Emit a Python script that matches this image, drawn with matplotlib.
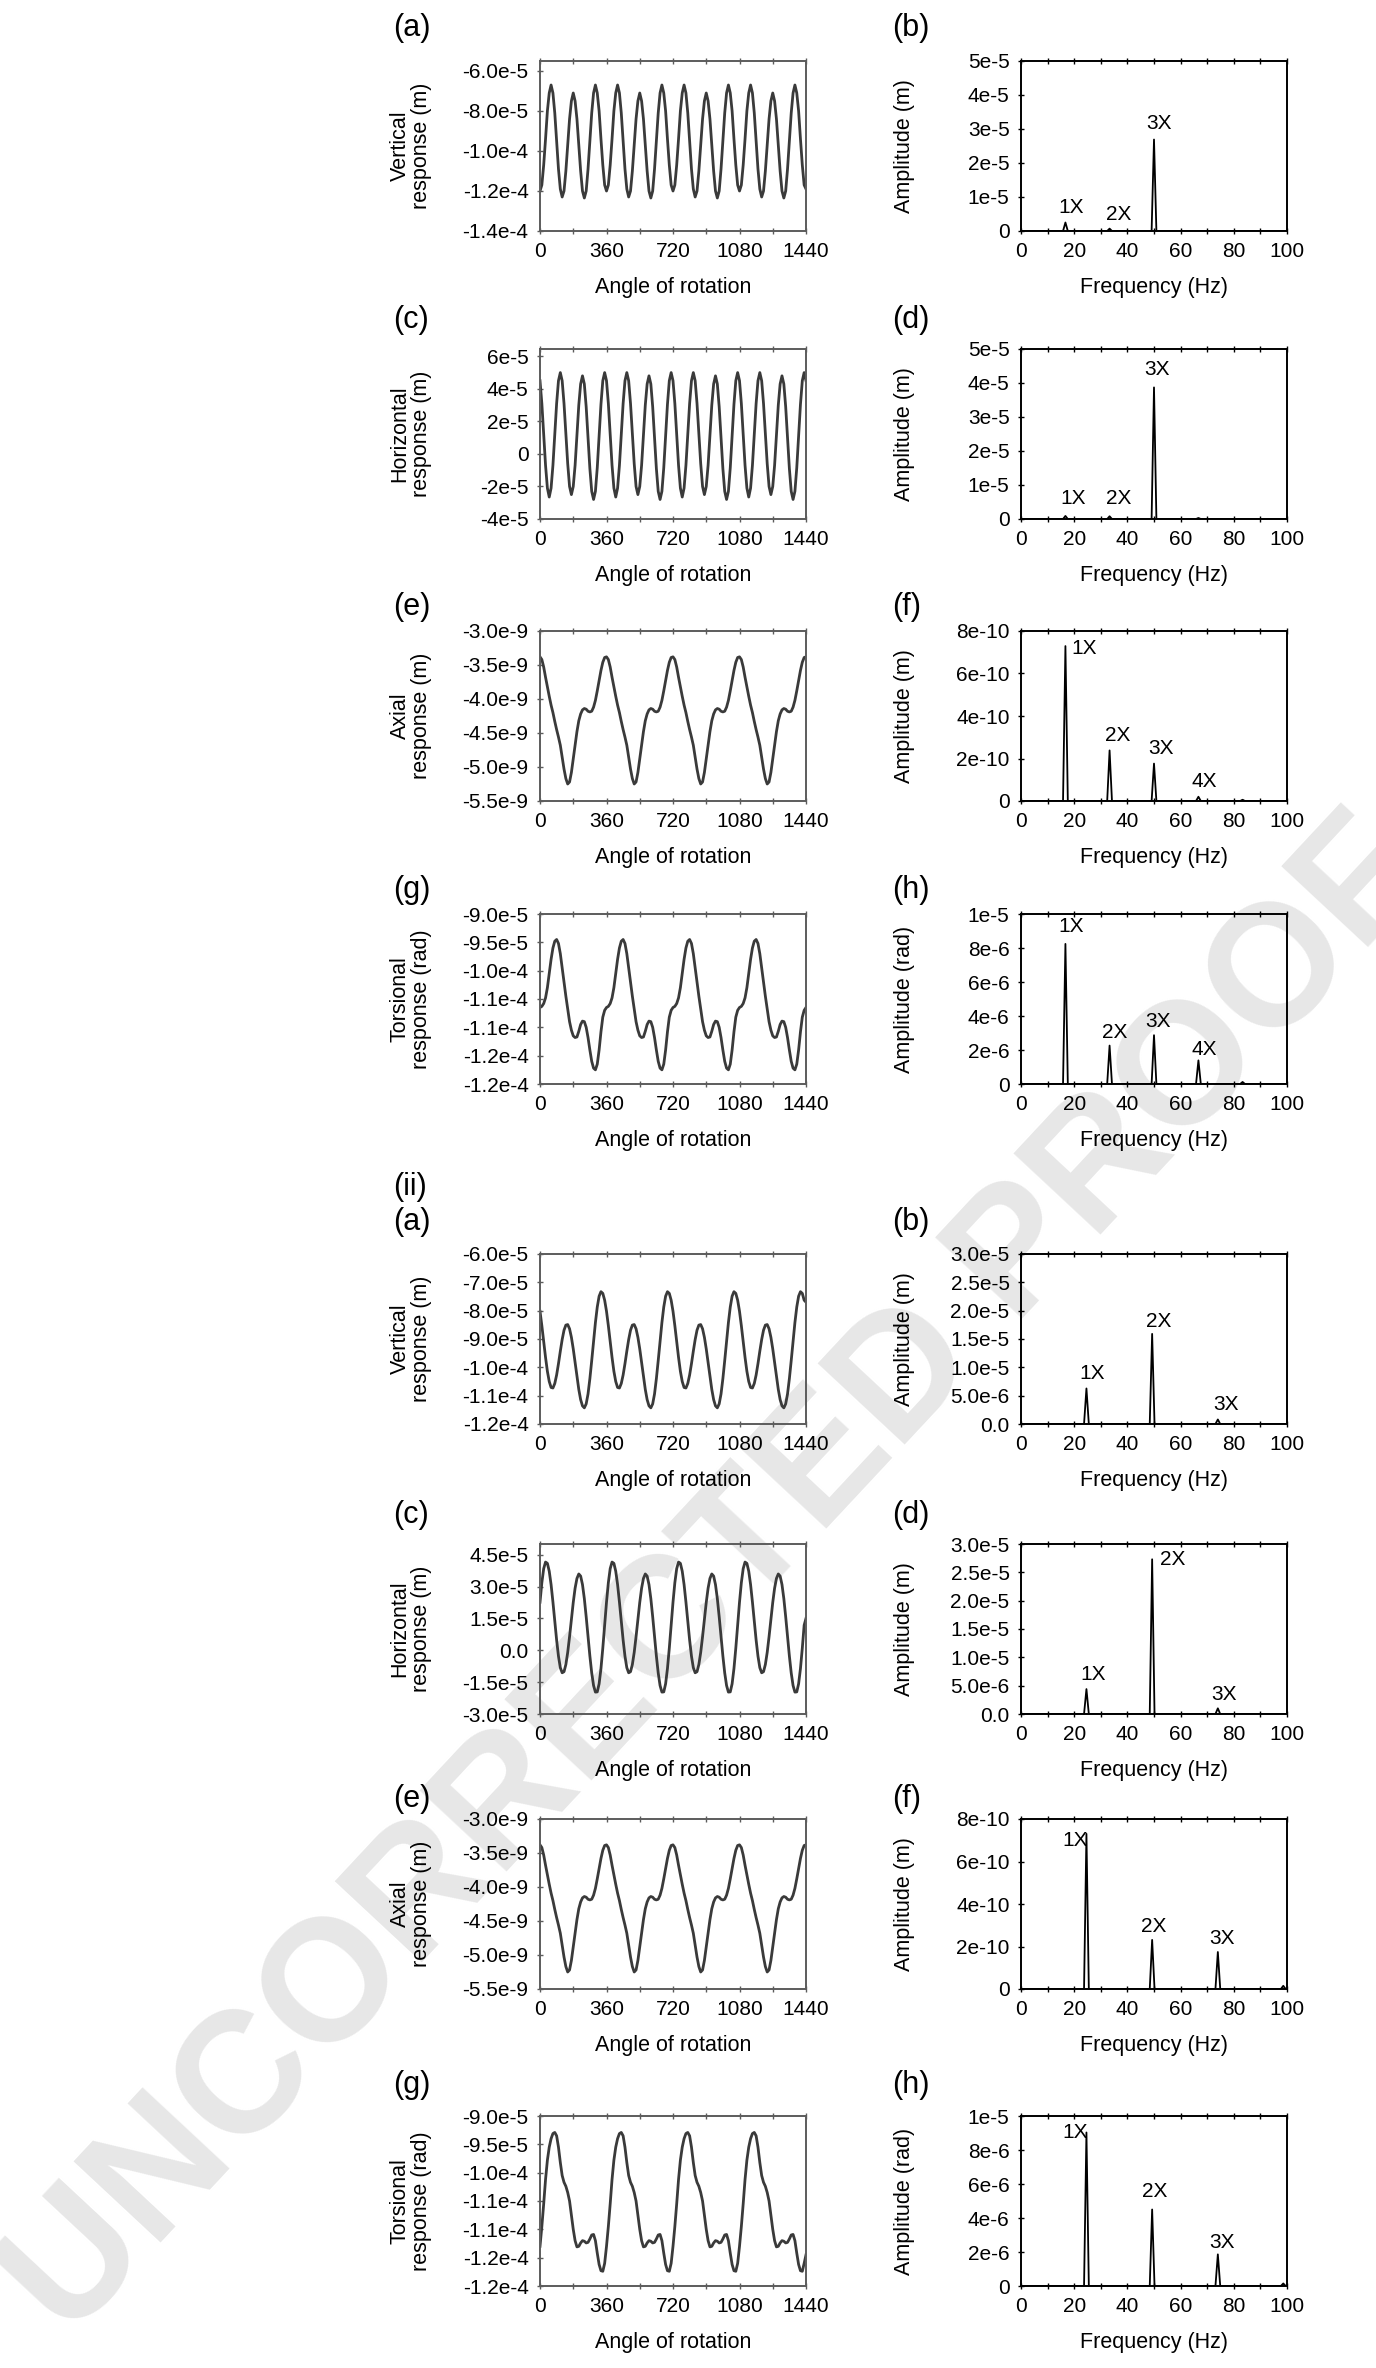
"""
Rotor response plots: time traces and spectra for two cases (i) and (ii).
"""

import numpy as np
import matplotlib.pyplot as plt
from matplotlib.ticker import FixedLocator, MultipleLocator

plt.rcParams['font.family'] = ['Liberation Sans', 'DejaVu Sans']

W, H, DPI = 1376, 2368, 100

# ---------------- data ----------------
# angle of rotation, one sample every 10 deg
angle = np.arange(0, 1441, 10)

# (i)(a) vertical response, x1e-5 m
vert_i = np.array([
    -12.0, -11.7, -10.7, -9.4, -8.0, -7.1, -6.7, -7.1, -8.1, -9.5, -10.9, -11.9,
    -12.3, -12.0, -11.0, -9.7, -8.4, -7.5, -7.1, -7.5, -8.4, -9.7, -11.0, -12.0,
    -12.35, -12.0, -10.9, -9.5, -8.1, -7.1, -6.7, -7.1, -8.0, -9.4, -10.7, -11.7,
    -12.0, -11.7, -10.7, -9.4, -8.0, -7.1, -6.7, -7.1, -8.1, -9.5, -10.9, -11.9,
    -12.3, -12.0, -11.0, -9.7, -8.4, -7.5, -7.1, -7.5, -8.4, -9.7, -11.0, -12.0,
    -12.35, -12.0, -10.9, -9.5, -8.1, -7.1, -6.7, -7.1, -8.0, -9.4, -10.7, -11.7,
    -12.0, -11.7, -10.7, -9.4, -8.0, -7.1, -6.7, -7.1, -8.1, -9.5, -10.9, -11.9,
    -12.3, -12.0, -11.0, -9.7, -8.4, -7.5, -7.1, -7.5, -8.4, -9.7, -11.0, -12.0,
    -12.35, -12.0, -10.9, -9.5, -8.1, -7.1, -6.7, -7.1, -8.0, -9.4, -10.7, -11.7,
    -12.0, -11.7, -10.7, -9.4, -8.0, -7.1, -6.7, -7.1, -8.1, -9.5, -10.9, -11.9,
    -12.3, -12.0, -11.0, -9.7, -8.4, -7.5, -7.1, -7.5, -8.4, -9.7, -11.0, -12.0,
    -12.35, -12.0, -10.9, -9.5, -8.1, -7.1, -6.7, -7.1, -8.0, -9.4, -10.7, -11.7,
    -11.9]) * 1e-5

# (i)(c) horizontal response, x1e-5 m
horiz_i = np.array([
    4.5, 3.1, 1.2, -0.7, -2.1, -2.65, -2.1, -0.7, 1.2, 3.1, 4.5, 5.0,
    4.5, 3.1, 1.25, -0.6, -2.0, -2.5, -2.0, -0.7, 1.15, 3.0, 4.3, 4.8,
    4.3, 2.9, 1.0, -0.9, -2.3, -2.8, -2.3, -0.85, 1.1, 3.05, 4.5, 5.0,
    4.5, 3.1, 1.2, -0.7, -2.1, -2.65, -2.1, -0.7, 1.2, 3.1, 4.5, 5.0,
    4.5, 3.1, 1.25, -0.6, -2.0, -2.5, -2.0, -0.7, 1.15, 3.0, 4.3, 4.8,
    4.3, 2.9, 1.0, -0.9, -2.3, -2.8, -2.3, -0.85, 1.1, 3.05, 4.5, 5.0,
    4.5, 3.1, 1.2, -0.7, -2.1, -2.65, -2.1, -0.7, 1.2, 3.1, 4.5, 5.0,
    4.5, 3.1, 1.25, -0.6, -2.0, -2.5, -2.0, -0.7, 1.15, 3.0, 4.3, 4.8,
    4.3, 2.9, 1.0, -0.9, -2.3, -2.8, -2.3, -0.85, 1.1, 3.05, 4.5, 5.0,
    4.5, 3.1, 1.2, -0.7, -2.1, -2.65, -2.1, -0.7, 1.2, 3.1, 4.5, 5.0,
    4.5, 3.1, 1.25, -0.6, -2.0, -2.5, -2.0, -0.7, 1.15, 3.0, 4.3, 4.8,
    4.3, 2.9, 1.0, -0.9, -2.3, -2.8, -2.3, -0.85, 1.1, 3.05, 4.5, 5.0,
    4.5]) * 1e-5

# (i)(e) and (ii)(e) axial response, x1e-9 m (the two traces look the same)
axial = np.array([
    -3.38, -3.42, -3.53, -3.68, -3.82, -3.96, -4.09, -4.2, -4.33, -4.45, -4.56, -4.68,
    -4.85, -5.03, -5.17, -5.25, -5.22, -5.08, -4.88, -4.68, -4.48, -4.32, -4.22, -4.16,
    -4.14, -4.15, -4.18, -4.19, -4.18, -4.12, -4.02, -3.88, -3.73, -3.58, -3.46, -3.39,
    -3.38, -3.42, -3.53, -3.68, -3.82, -3.96, -4.09, -4.2, -4.33, -4.45, -4.56, -4.68,
    -4.85, -5.03, -5.17, -5.25, -5.22, -5.08, -4.88, -4.68, -4.48, -4.32, -4.22, -4.16,
    -4.14, -4.15, -4.18, -4.19, -4.18, -4.12, -4.02, -3.88, -3.73, -3.58, -3.46, -3.39,
    -3.38, -3.42, -3.53, -3.68, -3.82, -3.96, -4.09, -4.2, -4.33, -4.45, -4.56, -4.68,
    -4.85, -5.03, -5.17, -5.25, -5.22, -5.08, -4.88, -4.68, -4.48, -4.32, -4.22, -4.16,
    -4.14, -4.15, -4.18, -4.19, -4.18, -4.12, -4.02, -3.88, -3.73, -3.58, -3.46, -3.39,
    -3.38, -3.42, -3.53, -3.68, -3.82, -3.96, -4.09, -4.2, -4.33, -4.45, -4.56, -4.68,
    -4.85, -5.03, -5.17, -5.25, -5.22, -5.08, -4.88, -4.68, -4.48, -4.32, -4.22, -4.16,
    -4.14, -4.15, -4.18, -4.19, -4.18, -4.12, -4.02, -3.88, -3.73, -3.58, -3.46, -3.39,
    -3.38]) * 1e-9

# (i)(g) torsional response, x1e-5 rad
tors_i = np.array([
    -10.65, -10.63, -10.58, -10.48, -10.3, -10.05, -9.8, -9.6, -9.48, -9.45, -9.52, -9.7,
    -9.95, -10.2, -10.45, -10.68, -10.9, -11.05, -11.15, -11.18, -11.17, -11.07, -10.95, -10.89,
    -10.9, -11.0, -11.18, -11.4, -11.6, -11.72, -11.75, -11.65, -11.4, -11.08, -10.82, -10.7,
    -10.65, -10.63, -10.58, -10.48, -10.3, -10.05, -9.8, -9.6, -9.48, -9.45, -9.52, -9.7,
    -9.95, -10.2, -10.45, -10.68, -10.9, -11.05, -11.15, -11.18, -11.17, -11.07, -10.95, -10.89,
    -10.9, -11.0, -11.18, -11.4, -11.6, -11.72, -11.75, -11.65, -11.4, -11.08, -10.82, -10.7,
    -10.65, -10.63, -10.58, -10.48, -10.3, -10.05, -9.8, -9.6, -9.48, -9.45, -9.52, -9.7,
    -9.95, -10.2, -10.45, -10.68, -10.9, -11.05, -11.15, -11.18, -11.17, -11.07, -10.95, -10.89,
    -10.9, -11.0, -11.18, -11.4, -11.6, -11.72, -11.75, -11.65, -11.4, -11.08, -10.82, -10.7,
    -10.65, -10.63, -10.58, -10.48, -10.3, -10.05, -9.8, -9.6, -9.48, -9.45, -9.52, -9.7,
    -9.95, -10.2, -10.45, -10.68, -10.9, -11.05, -11.15, -11.18, -11.17, -11.07, -10.95, -10.89,
    -10.9, -11.0, -11.18, -11.4, -11.6, -11.72, -11.75, -11.65, -11.4, -11.08, -10.82, -10.7,
    -10.65]) * 1e-5

# (ii)(a) vertical response, x1e-5 m
vert_ii = np.array([
    -8.02, -8.53, -9.09, -9.65, -10.14, -10.5, -10.71, -10.73, -10.57, -10.27, -9.87, -9.43,
    -9.02, -8.69, -8.51, -8.49, -8.64, -8.94, -9.35, -9.83, -10.33, -10.78, -11.14, -11.36,
    -11.43, -11.29, -10.94, -10.4, -9.76, -9.07, -8.42, -7.87, -7.49, -7.33, -7.39, -7.63,
    -8.02, -8.53, -9.09, -9.65, -10.14, -10.5, -10.71, -10.73, -10.57, -10.27, -9.87, -9.43,
    -9.02, -8.69, -8.51, -8.49, -8.64, -8.94, -9.35, -9.83, -10.33, -10.78, -11.14, -11.36,
    -11.43, -11.29, -10.94, -10.4, -9.76, -9.07, -8.42, -7.87, -7.49, -7.33, -7.39, -7.63,
    -8.02, -8.53, -9.09, -9.65, -10.14, -10.5, -10.71, -10.73, -10.57, -10.27, -9.87, -9.43,
    -9.02, -8.69, -8.51, -8.49, -8.64, -8.94, -9.35, -9.83, -10.33, -10.78, -11.14, -11.36,
    -11.43, -11.29, -10.94, -10.4, -9.76, -9.07, -8.42, -7.87, -7.49, -7.33, -7.39, -7.63,
    -8.02, -8.53, -9.09, -9.65, -10.14, -10.5, -10.71, -10.73, -10.57, -10.27, -9.87, -9.43,
    -9.02, -8.69, -8.51, -8.49, -8.64, -8.94, -9.35, -9.83, -10.33, -10.78, -11.14, -11.36,
    -11.43, -11.29, -10.94, -10.4, -9.76, -9.07, -8.42, -7.87, -7.49, -7.33, -7.39, -7.63,
    -7.7]) * 1e-5

# (ii)(c) horizontal response, x1e-5 m
horiz_ii = np.array([
    2.26, 3.18, 3.84, 4.15, 4.09, 3.72, 3.09, 2.27, 1.36, 0.48, -0.28, -0.82,
    -1.06, -1.01, -0.67, -0.1, 0.64, 1.46, 2.25, 2.92, 3.38, 3.59, 3.49, 3.09,
    2.43, 1.58, 0.64, -0.27, -1.07, -1.66, -1.97, -1.96, -1.58, -0.86, 0.1, 1.18,
    2.26, 3.18, 3.84, 4.15, 4.09, 3.72, 3.09, 2.27, 1.36, 0.48, -0.28, -0.82,
    -1.06, -1.01, -0.67, -0.1, 0.64, 1.46, 2.25, 2.92, 3.38, 3.59, 3.49, 3.09,
    2.43, 1.58, 0.64, -0.27, -1.07, -1.66, -1.97, -1.96, -1.58, -0.86, 0.1, 1.18,
    2.26, 3.18, 3.84, 4.15, 4.09, 3.72, 3.09, 2.27, 1.36, 0.48, -0.28, -0.82,
    -1.06, -1.01, -0.67, -0.1, 0.64, 1.46, 2.25, 2.92, 3.38, 3.59, 3.49, 3.09,
    2.43, 1.58, 0.64, -0.27, -1.07, -1.66, -1.97, -1.96, -1.58, -0.86, 0.1, 1.18,
    2.26, 3.18, 3.84, 4.15, 4.09, 3.72, 3.09, 2.27, 1.36, 0.48, -0.28, -0.82,
    -1.06, -1.01, -0.67, -0.1, 0.64, 1.46, 2.25, 2.92, 3.38, 3.59, 3.49, 3.09,
    2.43, 1.58, 0.64, -0.27, -1.07, -1.66, -1.97, -1.96, -1.58, -0.86, 0.1, 1.18,
    1.5]) * 1e-5

# (ii)(g) torsional response, x1e-5 rad
tors_ii = np.array([
    -11.3, -10.95, -10.55, -10.12, -9.78, -9.55, -9.4, -9.31, -9.29, -9.35, -9.55, -9.82,
    -10.05, -10.17, -10.24, -10.35, -10.5, -10.75, -11.0, -11.2, -11.31, -11.3, -11.24, -11.2,
    -11.21, -11.24, -11.23, -11.17, -11.1, -11.09, -11.2, -11.42, -11.62, -11.73, -11.74, -11.6,
    -11.3, -10.95, -10.55, -10.12, -9.78, -9.55, -9.4, -9.31, -9.29, -9.35, -9.55, -9.82,
    -10.05, -10.17, -10.24, -10.35, -10.5, -10.75, -11.0, -11.2, -11.31, -11.3, -11.24, -11.2,
    -11.21, -11.24, -11.23, -11.17, -11.1, -11.09, -11.2, -11.42, -11.62, -11.73, -11.74, -11.6,
    -11.3, -10.95, -10.55, -10.12, -9.78, -9.55, -9.4, -9.31, -9.29, -9.35, -9.55, -9.82,
    -10.05, -10.17, -10.24, -10.35, -10.5, -10.75, -11.0, -11.2, -11.31, -11.3, -11.24, -11.2,
    -11.21, -11.24, -11.23, -11.17, -11.1, -11.09, -11.2, -11.42, -11.62, -11.73, -11.74, -11.6,
    -11.3, -10.95, -10.55, -10.12, -9.78, -9.55, -9.4, -9.31, -9.29, -9.35, -9.55, -9.82,
    -10.05, -10.17, -10.24, -10.35, -10.5, -10.75, -11.0, -11.2, -11.31, -11.3, -11.24, -11.2,
    -11.21, -11.24, -11.23, -11.17, -11.1, -11.09, -11.2, -11.42, -11.62, -11.73, -11.74, -11.6,
    -11.45]) * 1e-5

# spectra: peak frequencies (Hz) and amplitudes
freq_i = [16.7, 33.3, 50.0, 66.7, 83.3]
freq_ii = [24.6, 49.3, 74.0, 98.6]
amp_ib = [2.5e-6, 0.7e-6, 2.69e-5, 0.0, 0.0]
amp_id = [0.9e-6, 0.8e-6, 3.87e-5, 0.3e-6, 0.0]
amp_if = [7.29e-10, 2.38e-10, 1.76e-10, 0.2e-10, 0.06e-10]
amp_ih = [8.24e-6, 2.26e-6, 2.87e-6, 1.39e-6, 0.12e-6]
amp_iib = [6.27e-6, 1.59e-5, 0.8e-6, 0.0]
amp_iid = [4.4e-6, 2.73e-5, 1.0e-6, 0.0]
amp_iif = [7.3e-10, 2.31e-10, 1.74e-10, 0.15e-10]
amp_iih = [9.03e-6, 4.5e-6, 1.86e-6, 0.15e-6]

# harmonic labels (text, freq, amplitude)
lab_ib = [("1X", 19.0, 6.9e-6), ("2X", 36.6, 5.0e-6), ("3X", 52.0, 3.15e-5)]
lab_id = [("1X", 19.5, 6.0e-6), ("2X", 36.6, 6.0e-6), ("3X", 51.0, 4.39e-5)]
lab_if = [("1X", 23.8, 7.17e-10), ("2X", 36.3, 3.1e-10), ("3X", 52.5, 2.47e-10), ("4X", 68.8, 0.9e-10)]
lab_ih = [("1X", 19.0, 9.28e-6), ("2X", 35.2, 3.04e-6), ("3X", 51.6, 3.67e-6), ("4X", 68.8, 2.04e-6)]
lab_iib = [("1X", 26.7, 8.86e-6), ("2X", 51.9, 1.8e-5), ("3X", 77.0, 3.4e-6)]
lab_iid = [("1X", 27.0, 6.9e-6), ("2X", 57.2, 2.73e-5), ("3X", 76.3, 3.5e-6)]
lab_iif = [("1X", 20.3, 7.0e-10), ("2X", 49.8, 2.94e-10), ("3X", 75.5, 2.39e-10)]
lab_iih = [("1X", 20.3, 9.0e-6), ("2X", 50.2, 5.54e-6), ("3X", 75.5, 2.53e-6)]

# ---------------- layout (pixels) ----------------
COL_X = [540, 1021]
AX_W, AX_H = 266, 170
ROW_TOP = [61, 349, 631, 914, 1254, 1544, 1819, 2116]
LBL_Y = [28, 320, 607, 890, 1222, 1515, 1799, 2085]

TICK_FS = 15
LABEL_FS = 15.5
TRACE = '#3a3a3a'
FRAME = '#5c5c5c'

fig = plt.figure(figsize=(W / DPI, H / DPI), dpi=DPI)
fig.patch.set_facecolor('white')

# faint proof watermark behind the panels
fig.text(718 / W, 1 - 1580 / H, 'UNCORRECTED PROOF', rotation=47, fontsize=124,
         fontweight='bold', color='#e7e7e7', ha='center', va='center',
         rotation_mode='anchor', zorder=-5)


def make_axes(col, row):
    rect = [COL_X[col] / W, 1 - (ROW_TOP[row] + AX_H) / H, AX_W / W, AX_H / H]
    ax = fig.add_axes(rect)
    ax.patch.set_visible(False)
    return ax


def style_ticks(ax, color):
    for s in ax.spines.values():
        s.set_color(color)
        s.set_linewidth(1.4)
    ax.tick_params(which='both', direction='inout', length=4.5, width=1.0,
                   color=color, labelsize=TICK_FS, labelcolor='black', pad=6,
                   top=True, right=False)


def time_panel(row, y, yticks, yticklabels, ylim, ylabel):
    ax = make_axes(0, row)
    ax.plot(angle, y, color=TRACE, lw=2.0, solid_joinstyle='round')
    ax.set_xlim(0, 1440)
    ax.set_ylim(*ylim)
    ax.xaxis.set_major_locator(FixedLocator([0, 360, 720, 1080, 1440]))
    ax.xaxis.set_minor_locator(MultipleLocator(180))
    ax.yaxis.set_major_locator(FixedLocator(yticks))
    ax.set_yticklabels(yticklabels)
    style_ticks(ax, FRAME)
    ax.set_xlabel('Angle of rotation', fontsize=LABEL_FS)
    ax.xaxis.set_label_coords(0.5, -0.27)
    ax.set_ylabel(ylabel, fontsize=LABEL_FS, linespacing=1.05)
    ax.yaxis.set_label_coords(-0.405, 0.5)
    return ax


def spectrum_panel(row, freqs, amps, labels, yticks, yticklabels, ylim, ylabel):
    ax = make_axes(1, row)
    hw = 0.9  # half base width of a peak, Hz
    fx, fy = [0.0], [0.0]
    for f, a in zip(freqs, amps):
        fx += [f - hw, f, f + hw]
        fy += [0.0, a, 0.0]
    fx.append(100.0)
    fy.append(0.0)
    ax.plot(fx, fy, color='black', lw=1.3)
    for txt, lx, ly in labels:
        ax.text(lx, ly, txt, fontsize=TICK_FS, ha='center', va='center')
    ax.set_xlim(0, 100)
    ax.set_ylim(*ylim)
    ax.xaxis.set_major_locator(FixedLocator([0, 20, 40, 60, 80, 100]))
    ax.xaxis.set_minor_locator(MultipleLocator(10))
    ax.yaxis.set_major_locator(FixedLocator(yticks))
    ax.set_yticklabels(yticklabels)
    style_ticks(ax, 'black')
    ax.set_xlabel('Frequency (Hz)', fontsize=LABEL_FS)
    ax.xaxis.set_label_coords(0.5, -0.27)
    ax.set_ylabel(ylabel, fontsize=LABEL_FS)
    ax.yaxis.set_label_coords(-0.398, 0.5)
    return ax


# tick sets
t_vert_i = [-1.4e-4, -1.2e-4, -1.0e-4, -8.0e-5, -6.0e-5]
l_vert_i = ['-1.4e-4', '-1.2e-4', '-1.0e-4', '-8.0e-5', '-6.0e-5']
t_horiz_i = [-4e-5, -2e-5, 0, 2e-5, 4e-5, 6e-5]
l_horiz_i = ['-4e-5', '-2e-5', '0', '2e-5', '4e-5', '6e-5']
t_axial = [-5.5e-9, -5.0e-9, -4.5e-9, -4.0e-9, -3.5e-9, -3.0e-9]
l_axial = ['-5.5e-9', '-5.0e-9', '-4.5e-9', '-4.0e-9', '-3.5e-9', '-3.0e-9']
t_tors = [-1.2e-4, -1.15e-4, -1.1e-4, -1.05e-4, -1.0e-4, -9.5e-5, -9.0e-5]
l_tors = ['-1.2e-4', '-1.2e-4', '-1.1e-4', '-1.1e-4', '-1.0e-4', '-9.5e-5', '-9.0e-5']
t_vert_ii = [-1.2e-4, -1.1e-4, -1.0e-4, -9.0e-5, -8.0e-5, -7.0e-5, -6.0e-5]
l_vert_ii = ['-1.2e-4', '-1.1e-4', '-1.0e-4', '-9.0e-5', '-8.0e-5', '-7.0e-5', '-6.0e-5']
t_horiz_ii = [-3.0e-5, -1.5e-5, 0, 1.5e-5, 3.0e-5, 4.5e-5]
l_horiz_ii = ['-3.0e-5', '-1.5e-5', '0.0', '1.5e-5', '3.0e-5', '4.5e-5']

t_amp5 = [0, 1e-5, 2e-5, 3e-5, 4e-5, 5e-5]
l_amp5 = ['0', '1e-5', '2e-5', '3e-5', '4e-5', '5e-5']
t_amp10 = [0, 2e-10, 4e-10, 6e-10, 8e-10]
l_amp10 = ['0', '2e-10', '4e-10', '6e-10', '8e-10']
t_amp6 = [0, 2e-6, 4e-6, 6e-6, 8e-6, 1e-5]
l_amp6 = ['0', '2e-6', '4e-6', '6e-6', '8e-6', '1e-5']
t_amp3 = [0, 5e-6, 1e-5, 1.5e-5, 2e-5, 2.5e-5, 3e-5]
l_amp3 = ['0.0', '5.0e-6', '1.0e-5', '1.5e-5', '2.0e-5', '2.5e-5', '3.0e-5']

# ---------------- case (i) ----------------
time_panel(0, vert_i, t_vert_i, l_vert_i, (-1.4e-4, -5.5e-5), 'Vertical\nresponse (m)')
time_panel(1, horiz_i, t_horiz_i, l_horiz_i, (-4e-5, 6.45e-5), 'Horizontal\nresponse (m)')
time_panel(2, axial, t_axial, l_axial, (-5.5e-9, -3.0e-9), 'Axial\nresponse (m)')
time_panel(3, tors_i, t_tors, l_tors, (-1.2e-4, -9.0e-5), 'Torsional\nresponse (rad)')

spectrum_panel(0, freq_i, amp_ib, lab_ib, t_amp5, l_amp5, (0, 5e-5), 'Amplitude (m)')
spectrum_panel(1, freq_i, amp_id, lab_id, t_amp5, l_amp5, (0, 5e-5), 'Amplitude (m)')
spectrum_panel(2, freq_i, amp_if, lab_if, t_amp10, l_amp10, (0, 8e-10), 'Amplitude (m)')
spectrum_panel(3, freq_i, amp_ih, lab_ih, t_amp6, l_amp6, (0, 1e-5), 'Amplitude (rad)')

# ---------------- case (ii) ----------------
time_panel(4, vert_ii, t_vert_ii, l_vert_ii, (-1.2e-4, -6.0e-5), 'Vertical\nresponse (m)')
time_panel(5, horiz_ii, t_horiz_ii, l_horiz_ii, (-3.0e-5, 5.0e-5), 'Horizontal\nresponse (m)')
time_panel(6, axial, t_axial, l_axial, (-5.5e-9, -3.0e-9), 'Axial\nresponse (m)')
time_panel(7, tors_ii, t_tors, l_tors, (-1.2e-4, -9.0e-5), 'Torsional\nresponse (rad)')

spectrum_panel(4, freq_ii, amp_iib, lab_iib, t_amp3, l_amp3, (0, 3e-5), 'Amplitude (m)')
spectrum_panel(5, freq_ii, amp_iid, lab_iid, t_amp3, l_amp3, (0, 3e-5), 'Amplitude (m)')
spectrum_panel(6, freq_ii, amp_iif, lab_iif, t_amp10, l_amp10, (0, 8e-10), 'Amplitude (m)')
spectrum_panel(7, freq_ii, amp_iih, lab_iih, t_amp6, l_amp6, (0, 1e-5), 'Amplitude (rad)')

# panel letters
letters = ['a', 'b', 'c', 'd', 'e', 'f', 'g', 'h']
for row in range(8):
    k = row % 4
    fig.text(393 / W, 1 - LBL_Y[row] / H, '(%s)' % letters[2 * k],
             fontsize=22, ha='left', va='center')
    fig.text(892 / W, 1 - LBL_Y[row] / H, '(%s)' % letters[2 * k + 1],
             fontsize=22, ha='left', va='center')
fig.text(393 / W, 1 - 1187 / H, '(ii)', fontsize=22, ha='left', va='center')

fig.savefig('out.png', dpi=DPI)
